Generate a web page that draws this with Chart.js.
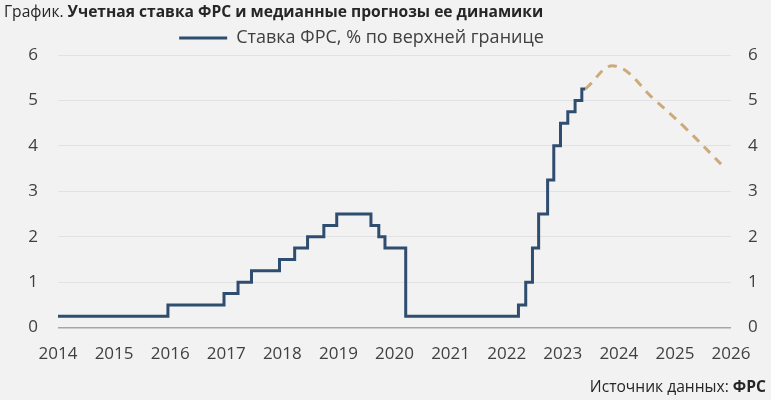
<!DOCTYPE html>
<html lang="ru">
<head>
<meta charset="utf-8">
<script src="https://cdn.jsdelivr.net/npm/chart.js@4.4.0/dist/chart.umd.min.js"></script>
<style>
  body { margin: 0; background: #f2f2f2; font-family: "Open Sans", sans-serif; }
  #wrap { position: relative; width: 771px; height: 400px; background: #f2f2f2; }
  #title { position: absolute; left: 4px; top: 0px; font-size: 15.6px; color: #262626; white-space: nowrap; }
  #source { position: absolute; right: 5px; top: 375px; font-size: 15.6px; color: #262626; white-space: nowrap; }
  canvas { position: absolute; left: 0; top: 0; }
</style>
</head>
<body>
<div id="wrap">
  <canvas id="chart" width="771" height="400"></canvas>
  <div id="title">График. <b>Учетная ставка ФРС и медианные прогнозы ее динамики</b></div>
  <div id="source">Источник данных: <b>ФРС</b></div>
</div>
<script>
// Ставка ФРС (верхняя граница), дата изменения в долях года
const rateDates  = [2014.0, 2015.96, 2016.96, 2017.21, 2017.45, 2017.95, 2018.22, 2018.45, 2018.74, 2018.97,
                    2019.58, 2019.72, 2019.83, 2020.2, 2022.21, 2022.34, 2022.46, 2022.57, 2022.73, 2022.84,
                    2022.96, 2023.09, 2023.22, 2023.34, 2023.4];
const rateValues = [0.25, 0.5, 0.75, 1.0, 1.25, 1.5, 1.75, 2.0, 2.25, 2.5,
                    2.25, 2.0, 1.75, 0.25, 0.5, 1.0, 1.75, 2.5, 3.25, 4.0,
                    4.5, 4.75, 5.0, 5.25, 5.25];

// медианные прогнозы
const forecastDates  = [2023.4, 2023.92, 2024.65, 2025.18, 2025.9];
const forecastValues = [5.25, 5.76, 5.0, 4.4, 3.5];

const yearTicks = [2014, 2015, 2016, 2017, 2018, 2019, 2020, 2021, 2022, 2023, 2024, 2025, 2026];
const legendLabel = 'Ставка ФРС, % по верхней границе';

const toPoints = (xs, ys) => xs.map((x, i) => ({ x: x, y: ys[i] }));
const tickFont = { family: '"Open Sans", sans-serif', size: 17 };

// легенда в оригинале чуть левее центра и ниже
const legendShift = {
    id: 'legendShift',
    afterLayout(chart) {
        chart.legend.left -= 31;
        chart.legend.right -= 31;
        chart.legend.top += 2;
        chart.legend.bottom += 2;
    }
};

const ctx = document.getElementById('chart').getContext('2d');
new Chart(ctx, {
    type: 'line',
    data: {
        datasets: [
            {
                label: legendLabel,
                data: toPoints(rateDates, rateValues),
                borderColor: '#2f4d6e',
                backgroundColor: '#2f4d6e',
                borderWidth: 3,
                stepped: 'before',
                pointRadius: 0,
                yAxisID: 'y'
            },
            {
                label: 'Прогноз',
                data: toPoints(forecastDates, forecastValues),
                borderColor: '#cdaa7a',
                borderWidth: 3,
                borderDash: [9, 7],
                tension: 0.4,
                pointRadius: 0,
                yAxisID: 'y'
            }
        ]
    },
    plugins: [legendShift],
    options: {
        responsive: false,
        animation: false,
        layout: { padding: { top: 22, bottom: 28, left: 18, right: 4 } },
        plugins: {
            legend: {
                position: 'top',
                labels: {
                    color: '#404040',
                    font: { family: '"Open Sans", sans-serif', size: 18 },
                    usePointStyle: true,
                    pointStyle: 'line',
                    pointStyleWidth: 48,
                    padding: 5,
                    filter: item => item.datasetIndex === 0
                }
            },
            tooltip: { enabled: false }
        },
        scales: {
            x: {
                type: 'linear',
                min: 2014,
                max: 2026,
                afterBuildTicks: axis => { axis.ticks = yearTicks.map(v => ({ value: v })); },
                ticks: { color: '#404040', font: tickFont, padding: 8, callback: v => String(v) },
                grid: { display: false },
                border: { display: false }
            },
            y: {
                position: 'left',
                min: 0,
                max: 6,
                afterFit: axis => { axis.width = 40; },
                ticks: { stepSize: 1, color: '#404040', font: tickFont, padding: 20 },
                grid: {
                    drawTicks: false,
                    color: c => c.tick.value === 0 ? '#a6a6a6' : '#e2e2e2',
                    lineWidth: c => c.tick.value === 0 ? 1.5 : 1
                },
                border: { display: false }
            },
            y2: {
                position: 'right',
                min: 0,
                max: 6,
                afterFit: axis => { axis.width = 36; },
                ticks: { stepSize: 1, color: '#404040', font: tickFont, padding: 17 },
                grid: { display: false, drawTicks: false },
                border: { display: false }
            }
        }
    }
});
</script>
</body>
</html>
